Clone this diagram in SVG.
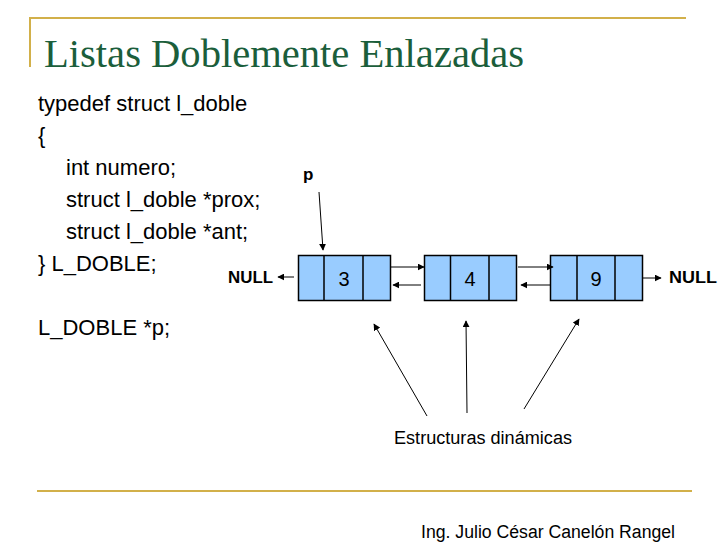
<svg xmlns="http://www.w3.org/2000/svg" width="728" height="546" viewBox="0 0 728 546">
<style>
.gold{stroke:#d2b04a;stroke-width:2;fill:none}
.code{font-family:"Liberation Sans",Arial,sans-serif;font-size:22px;fill:#000}
.node rect{fill:#99ccff;stroke:#000;stroke-width:1.5}
.node line{stroke:#000;stroke-width:1.5}
.num{font-family:"Liberation Sans",Arial,sans-serif;font-size:20px;fill:#000;text-anchor:middle}
.lbl{font-family:"Liberation Sans",Arial,sans-serif;font-weight:bold;font-size:17px;fill:#000}
.txt{font-family:"Liberation Sans",Arial,sans-serif;font-size:18px;fill:#000}
.conn line{stroke:#000;stroke-width:1;marker-end:url(#ah)}
</style>
<defs>
<marker id="ah" viewBox="0 0 10 10" refX="9" refY="5" markerWidth="7" markerHeight="7" markerUnits="userSpaceOnUse" orient="auto">
<path d="M0,0 L10,5 L0,10 z" fill="#000"/>
</marker>
</defs>
<rect width="728" height="546" fill="#fff"/>
<g id="frame">
<line class="gold" x1="30" y1="18" x2="686" y2="18"/>
<line class="gold" x1="30" y1="17" x2="30" y2="67"/>
<line class="gold" x1="37" y1="491" x2="692" y2="491"/>
</g>
<g id="title">
<text x="44" y="67" font-family="'Liberation Serif','Times New Roman',serif" font-size="40" fill="#1b5e3b" textLength="480" lengthAdjust="spacingAndGlyphs">Listas Doblemente Enlazadas</text>
</g>
<g id="code" class="code">
<text x="38" y="111">typedef struct l_doble</text>
<text x="38" y="143">{</text>
<text x="66" y="175">int numero;</text>
<text x="66" y="207">struct l_doble *prox;</text>
<text x="66" y="239">struct l_doble *ant;</text>
<text x="38" y="271">} L_DOBLE;</text>
<text x="38" y="335">L_DOBLE *p;</text>
</g>
<g id="node3" class="node">
<rect x="298.5" y="255.5" width="92" height="45"/>
<line x1="324" y1="255.5" x2="324" y2="300.5"/>
<line x1="363" y1="255.5" x2="363" y2="300.5"/>
<text class="num" x="344" y="286">3</text>
</g>
<g id="node4" class="node">
<rect x="424.5" y="255.5" width="92" height="45"/>
<line x1="450.5" y1="255.5" x2="450.5" y2="300.5"/>
<line x1="489" y1="255.5" x2="489" y2="300.5"/>
<text class="num" x="470" y="286">4</text>
</g>
<g id="node9" class="node">
<rect x="550.5" y="255.5" width="92" height="45"/>
<line x1="577" y1="255.5" x2="577" y2="300.5"/>
<line x1="615" y1="255.5" x2="615" y2="300.5"/>
<text class="num" x="596" y="286">9</text>
</g>
<g id="null-left"><text class="lbl" x="228" y="283" textLength="45" lengthAdjust="spacingAndGlyphs">NULL</text></g>
<g id="null-right"><text class="lbl" x="669" y="283" textLength="48" lengthAdjust="spacingAndGlyphs">NULL</text></g>
<g id="p-label"><text class="lbl" x="303" y="180">p</text></g>
<g id="estructuras"><text class="txt" x="394" y="444" textLength="178" lengthAdjust="spacingAndGlyphs">Estructuras dinámicas</text></g>
<g id="footer"><text class="txt" x="421" y="538" textLength="254" lengthAdjust="spacingAndGlyphs">Ing. Julio César Canelón Rangel</text></g>
<g id="connectors" class="conn">
<line x1="319" y1="192" x2="323" y2="250"/>
<line x1="294" y1="277" x2="278" y2="277"/>
<line x1="391" y1="267" x2="424" y2="267"/>
<line x1="421" y1="285" x2="393" y2="285"/>
<line x1="518" y1="267" x2="553" y2="267"/>
<line x1="550" y1="285" x2="521" y2="285"/>
<line x1="643" y1="278" x2="661" y2="278"/>
<line x1="427" y1="416" x2="374" y2="324"/>
<line x1="467" y1="413" x2="466" y2="321"/>
<line x1="524" y1="409" x2="579" y2="319"/>
</g>
</svg>
